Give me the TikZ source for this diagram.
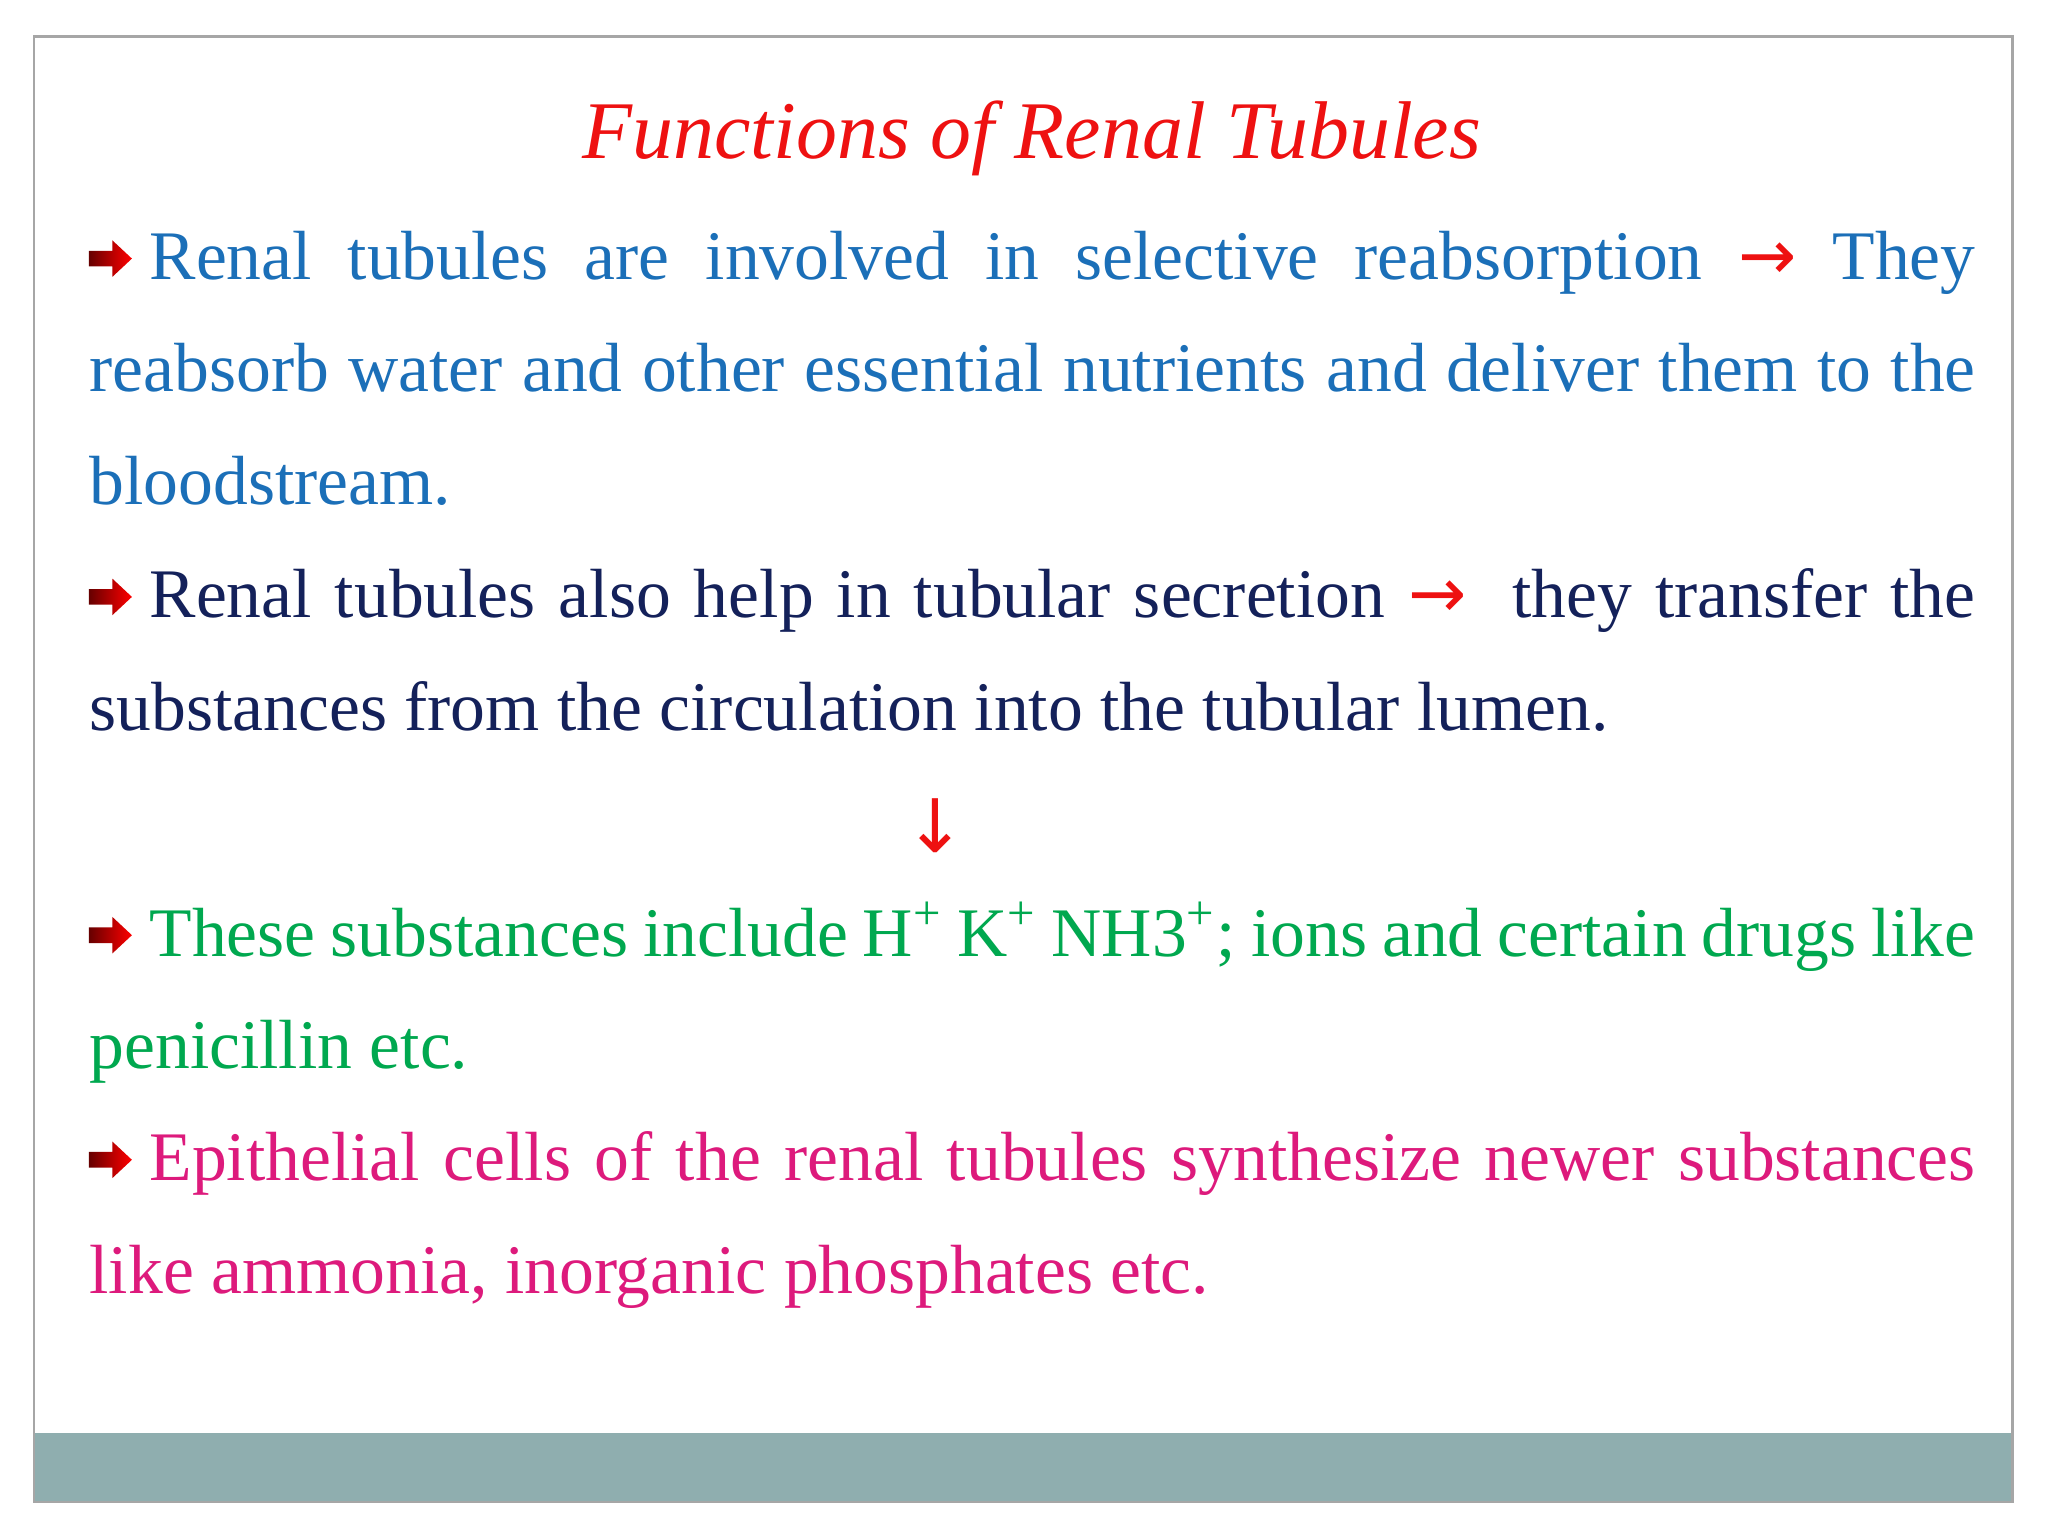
\documentclass[tikz,border=0pt]{standalone}
\usepackage{fontspec}
\setmainfont{Liberation Serif}
\newfontfamily\symf{DejaVu Sans}
\definecolor{tblue}{HTML}{1B6FB8}
\definecolor{tnavy}{HTML}{14215A}
\definecolor{tgreen}{HTML}{00A84F}
\definecolor{tpink}{HTML}{DD1A7C}
\definecolor{tred}{HTML}{EE1111}
\definecolor{band}{HTML}{8FAEAF}
\newcommand{\rarr}{{\color{tred}\symf →}}
\begin{document}
\begin{tikzpicture}[x=0.013061cm,y=-0.013061cm,
  ln/.style={anchor=base west,inner sep=0pt,font=\fontsize{19.8}{24}\selectfont},
  bul/.style={draw=none,left color=black!60!red,right color=red}]
\useasboundingbox (0,0) rectangle (1568,1176);
\fill[white] (0,0) rectangle (1568,1176);
\fill[band] (26,1097) rectangle (1541,1150);
\draw[gray!70,line width=0.8pt] (26,28) rectangle (1541,1150);
\node[anchor=base,inner sep=0pt,text=tred,font=\fontsize{23.3}{28}\selectfont\itshape] (title) at (790,121) {Functions of Renal Tubules};
% bullets
\foreach \n/\y in {b1/198,b2/457,b3/716,b4/888}{
  \path[bul] (68,\y-6) -- (86,\y-6) -- (86,\y-14) -- (101,\y) -- (86,\y+14) -- (86,\y+6) -- (68,\y+6) -- cycle;
}
% paragraph 1
\node[ln,text=tblue] (p1a) at (114,214) {\makebox[18.26cm][s]{Renal tubules are involved in selective reabsorption \rarr\ They}};
\node[ln,text=tblue] (p1b) at (68,300) {\makebox[18.86cm][s]{reabsorb water and other essential nutrients and deliver them to the}};
\node[ln,text=tblue] (p1c) at (68,386) {bloodstream.};
% paragraph 2
\node[ln,text=tnavy] (p2a) at (114,473) {\makebox[18.26cm][s]{Renal tubules also help in tubular secretion \rarr\ \ they transfer the}};
\node[ln,text=tnavy] (p2b) at (68,559) {substances from the circulation into the tubular lumen.};
\node[inner sep=0pt,font=\fontsize{21}{25}\selectfont\symf,text=tred] (down) at (716,632) {↓};
% paragraph 3
\node[ln,text=tgreen] (p3a) at (114,732) {\makebox[18.26cm][s]{These substances include H\textsuperscript{+} K\textsuperscript{+} NH3\textsuperscript{+}; ions and certain drugs like}};
\node[ln,text=tgreen] (p3b) at (68,818) {penicillin etc.};
% paragraph 4
\node[ln,text=tpink] (p4a) at (114,904) {\makebox[18.26cm][s]{Epithelial cells of the renal tubules synthesize newer substances}};
\node[ln,text=tpink] (p4b) at (68,990) {like ammonia, inorganic phosphates etc.};
\end{tikzpicture}
\end{document}
